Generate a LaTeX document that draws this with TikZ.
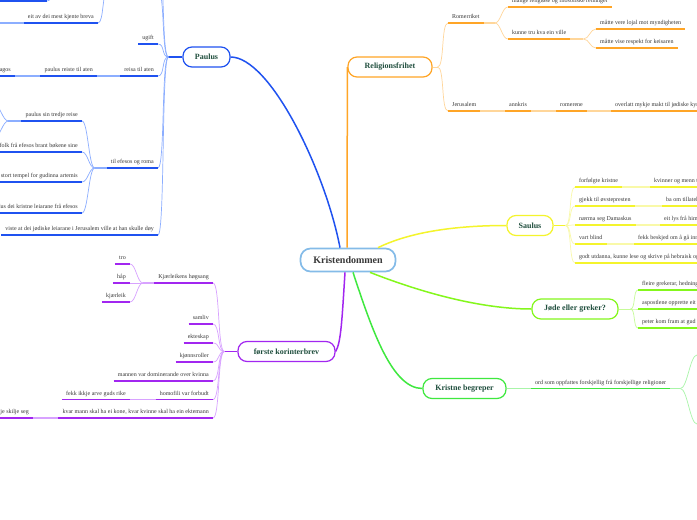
\documentclass[tikz,border=0pt]{standalone}
\usepackage{fontspec}
\setmainfont{Liberation Serif}
\definecolor{pblue}{HTML}{1F52F0}
\definecolor{pbluel}{HTML}{8CAEFF}
\definecolor{rorange}{HTML}{FFA526}
\definecolor{rorangel}{HTML}{FFD69A}
\definecolor{syellow}{HTML}{F4F42C}
\definecolor{syellowl}{HTML}{F9F9A8}
\definecolor{jlime}{HTML}{84F71C}
\definecolor{jlimel}{HTML}{C6FB98}
\definecolor{kgreen}{HTML}{3FE83F}
\definecolor{kgreenl}{HTML}{A8F5A8}
\definecolor{fpurple}{HTML}{A226F0}
\definecolor{fpurplel}{HTML}{D8A2FF}
\definecolor{cblue}{HTML}{84BBE8}
\definecolor{topictext}{HTML}{1F4E3D}
\definecolor{leaftext}{HTML}{383838}

\begin{document}
\begin{tikzpicture}[x=1pt,y=-1pt,
  hub/.style={draw=cblue, line width=1.7pt, rounded corners=10pt, fill=white, minimum height=23pt, minimum width=95pt, text=leaftext, font=\bfseries\fontsize{10}{12}\selectfont},
  topic/.style={draw=#1, line width=1.2pt, rounded corners=9pt, fill=white, minimum height=20pt, inner xsep=11pt, text=topictext, font=\bfseries\fontsize{8}{9.6}\selectfont},
  leaf/.style={inner xsep=4pt, inner ysep=2.6pt, text height=4.3pt, text depth=1.4pt, text=leaftext, font=\fontsize{6}{7.2}\selectfont},
  lleaf/.style={leaf, anchor=south east},
  rleaf/.style={leaf, anchor=south west},
  ul/.style={line width=1.8pt, draw=#1},
  link/.style={line width=1.3pt, draw=#1},
  fan/.style={line width=0.7pt, draw=#1},
  stem/.style={line width=1.3pt, draw=#1},
  main/.style={line width=1.5pt, draw=#1}]
\useasboundingbox (0,0) rectangle (697,520);
\fill[white] (0,0) rectangle (697,520);

% centre and main topics
\node[hub] (krist) at (348,260) {Kristendommen};
\node[topic=pblue, minimum width=47pt] (paulus) at (206.5,57) {Paulus};
\node[topic=rorange, minimum width=84pt] (relig) at (390,67) {Religionsfrihet};
\node[topic=syellow, minimum width=46pt] (saulus) at (530,225.5) {Saulus};
\node[topic=jlime, minimum width=86pt] (jode) at (575,309) {Jøde eller greker?};
\node[topic=kgreen, minimum width=83pt] (begrep) at (464.5,388.5) {Kristne begreper};
\node[topic=fpurple, minimum width=97pt] (korint) at (286.5,351.5) {første korinterbrev};

\draw[main=pblue] ([xshift=-8pt]krist.north) .. controls (325,170) and (270,57) .. (paulus.east);
\draw[main=rorange] ([xshift=-1pt]krist.north) -- (relig.west);
\draw[main=syellow] ([xshift=30pt]krist.north) .. controls (410,232) and (455,225.5) .. (saulus.west);
\draw[main=jlime] ([xshift=22pt]krist.south) .. controls (420,292) and (480,309) .. (jode.west);
\draw[main=kgreen] ([xshift=5pt]krist.south) .. controls (372,330) and (392,388.5) .. (begrep.west);
\draw[main=fpurple] ([xshift=-3pt]krist.south) .. controls (342,320) and (341,343) .. (korint.east);

% Paulus
\node[lleaf] (ugift) at (158,44) {ugift};
\node[lleaf] (reisa) at (158,76) {reisa til aten};
\node[lleaf] (reiste) at (97,76) {paulus reiste til aten};
\node[lleaf] (areo) at (15,76) {Areopagos};
\node[lleaf] (efesos) at (158,168) {til efesos og roma};
\node[lleaf] (tredje) at (82,121) {paulus sin tredje reise};
\node[lleaf] (brant) at (82,152) {folk frå efesos brant bøkene sine};
\node[lleaf] (tempel) at (82,182) {eit stort tempel for gudinna artemis};
\node[lleaf] (leiar) at (82,213) {møtte Paulus dei kristne leiarane frå efesos};
\node[lleaf] (viste) at (158,235) {viste at dei jødiske leiarane i Jerusalem ville at han skulle døy};
\node[lleaf] (breva) at (98,23) {eit av dei mest kjente breva};
\coordinate (pj) at ([xshift=-14pt]paulus.west);
\coordinate (ej) at ([xshift=-12pt]efesos.south west);
\coordinate (tj) at ([xshift=-13pt]tredje.south west);
\coordinate (bj) at (108,-10);
\coordinate (ptopa) at (158,-10);
\coordinate (ptopb) at (158,-42);
\draw[stem=pblue] (paulus.west) -- (pj);
\foreach \n in {ugift,reisa,efesos,viste}
  \draw[fan=pbluel] (pj) .. controls +(-7,0) and +(7,0) .. (\n.south east);
\draw[fan=pbluel] (pj) .. controls +(-7,0) and +(7,0) .. (ptopa);
\draw[fan=pbluel] (pj) .. controls +(-7,0) and +(7,0) .. (ptopb);
\foreach \n in {tredje,brant,tempel,leiar}
  \draw[fan=pbluel] (ej) .. controls +(-6,0) and +(6,0) .. (\n.south east);
\draw[fan=pbluel] (tj) .. controls +(-6,0) and +(6,0) .. (-6,104);
\draw[fan=pbluel] (tj) .. controls +(-6,0) and +(6,0) .. (-6,138);
\draw[fan=pbluel] (bj) .. controls +(-6,0) and +(6,0) .. (breva.south east);
\draw[fan=pbluel] (47,1) .. controls (54,1) and (50,-16) .. (58,-16);
\draw[link=pbluel] (reisa.south west) -- (reiste.south east);
\draw[link=pbluel] (reiste.south west) -- (areo.south east);
\draw[link=pbluel] (efesos.south west) -- (ej);
\draw[link=pbluel] (tredje.south west) -- (tj);
\draw[link=pbluel] (breva.south west) -- (-5,23);
\draw[ul=pblue] (-10,1) -- (47,1);
\foreach \n in {ugift,reisa,reiste,areo,efesos,tredje,brant,tempel,leiar,viste,breva}
  \draw[ul=pblue] (\n.south west) -- (\n.south east);

% Religionsfrihet
\node[rleaf] (romer) at (448,23) {Romerriket};
\node[rleaf] (mange) at (508,7) {mange religiøse og filosofiske retninger};
\node[rleaf] (kunne) at (508,39) {kunne tru kva ein ville};
\node[rleaf] (lojal) at (596,29) {måtte vere lojal mot myndigheten};
\node[rleaf] (respekt) at (596,48) {måtte vise respekt for keisaren};
\node[rleaf] (jerus) at (448,111) {Jerusalem};
\node[rleaf] (annk) at (505,111) {annkris};
\node[rleaf] (romerne) at (556,111) {romerene};
\node[rleaf] (overlatt) at (611,111) {overlatt mykje makt til jødiske kyrkjeleiarar};
\coordinate (rj) at ([xshift=5pt]relig.east);
\coordinate (romj) at ([xshift=11pt]romer.south east);
\coordinate (kj) at ([xshift=13pt]kunne.south east);
\draw[fan=rorangel] (relig.east) -- (rj);
\foreach \n in {romer,jerus}
  \draw[fan=rorangel] (rj) .. controls +(7,0) and +(-7,0) .. (\n.south west);
\foreach \n in {mange,kunne}
  \draw[fan=rorangel] (romj) .. controls +(6,0) and +(-6,0) .. (\n.south west);
\foreach \n in {lojal,respekt}
  \draw[fan=rorangel] (kj) .. controls +(6,0) and +(-6,0) .. (\n.south west);
\draw[link=rorangel] (romer.south east) -- (romj);
\draw[link=rorangel] (kunne.south east) -- (kj);
\draw[link=rorangel] (jerus.south east) -- (annk.south west);
\draw[link=rorangel] (annk.south east) -- (romerne.south west);
\draw[link=rorangel] (romerne.south east) -- (overlatt.south west);
\foreach \n in {romer,mange,kunne,lojal,respekt,jerus,annk,romerne,overlatt}
  \draw[ul=rorange] (\n.south west) -- (\n.south east);

% Saulus
\node[rleaf] (forfolg) at (575,187) {forfølgte kristne};
\node[rleaf] (kvinner) at (650,187) {kvinner og menn til fengsel};
\node[rleaf] (gjekk) at (575,206) {gjekk til øvstepresten};
\node[rleaf] (baom) at (662,206) {ba om tillatelse til å forfølgje};
\node[rleaf] (naerma) at (575,225) {nærma seg Damaskus};
\node[rleaf] (lys) at (660,225) {eit lys frå himmelen};
\node[rleaf] (blind) at (575,244) {vart blind};
\node[rleaf] (beskjed) at (634,244) {fekk beskjed om å gå inn i byen};
\node[rleaf] (utdanna) at (575,263) {godt utdanna, kunne lese og skrive på hebraisk og gresk};
\coordinate (sj) at ([xshift=12pt]saulus.east);
\draw[stem=syellow] (saulus.east) -- (sj);
\foreach \n in {forfolg,gjekk,naerma,blind,utdanna}
  \draw[fan=syellowl] (sj) .. controls +(6,0) and +(-6,0) .. (\n.south west);
\draw[link=syellowl] (forfolg.south east) -- (kvinner.south west);
\draw[link=syellowl] (gjekk.south east) -- (baom.south west);
\draw[link=syellowl] (naerma.south east) -- (lys.south west);
\draw[link=syellowl] (blind.south east) -- (beskjed.south west);
\foreach \n in {forfolg,kvinner,gjekk,baom,naerma,lys,blind,beskjed,utdanna}
  \draw[ul=syellow] (\n.south west) -- (\n.south east);

% Jøde eller greker?
\node[rleaf] (fleire) at (638,290) {fleire grekerar, hedningar vart kristne};
\node[rleaf] (apost) at (638,309) {aspostlene opprette eit møte};
\node[rleaf] (peter) at (638,328) {peter kom fram at gud ikkje gjer forskjell};
\coordinate (jj) at ([xshift=12pt]jode.east);
\draw[fan=jlimel] (jode.east) -- (jj);
\foreach \n in {fleire,apost,peter}
  \draw[fan=jlimel] (jj) .. controls +(5,0) and +(-5,0) .. (\n.south west);
\foreach \n in {fleire,apost,peter}
  \draw[ul=jlime] (\n.south west) -- (\n.south east);

% Kristne begreper
\node[rleaf] (ord) at (531,388.5) {ord som oppfattes forskjellig frå forskjellige religioner};
\coordinate (oj) at ([xshift=10pt]ord.south east);
\coordinate (oa) at (697,355);
\coordinate (ob) at (697,424);
\draw[link=kgreenl] (begrep.east) -- (ord.south west);
\draw[link=kgreenl] (ord.south east) -- (oj);
\draw[fan=kgreenl] (oj) .. controls +(7,0) and +(-7,0) .. (oa);
\draw[fan=kgreenl] (oj) .. controls +(7,0) and +(-7,0) .. (ob);
\draw[ul=kgreen] (ord.south west) -- (ord.south east);
\draw[ul=kgreen] (oa) -- +(12,0);
\draw[ul=kgreen] (ob) -- +(12,0);

% første korinterbrev
\node[lleaf] (hogsang) at (213,283) {Kjærleikens høgsang};
\node[lleaf] (tro) at (130,264) {tro};
\node[lleaf] (haap) at (130,283) {håp};
\node[lleaf] (kjaer) at (130,302) {kjærleik};
\node[lleaf] (samliv) at (213,324) {samliv};
\node[lleaf] (ekte) at (213,343) {ekteskap};
\node[lleaf] (kjonn) at (213,362) {kjønnsroller};
\node[lleaf] (mannen) at (213,381) {mannen var dominerande over kvinna};
\node[lleaf] (homo) at (213,399.5) {homofili var forbudt};
\node[lleaf] (arve) at (130,399.5) {fekk ikkje arve guds rike};
\node[lleaf] (kvar) at (213,418) {kvar mann skal ha ei kone, kvar kvinne skal ha ein ektemann};
\node[lleaf] (skilje) at (33,418) {skal ikkje skilje seg};
\coordinate (fj) at ([xshift=-13pt]korint.west);
\coordinate (hj) at ([xshift=-11pt]hogsang.south west);
\draw[stem=fpurple] (korint.west) -- (fj);
\foreach \n in {hogsang,samliv,ekte,kjonn,mannen,homo,kvar}
  \draw[fan=fpurplel] (fj) .. controls +(-7,0) and +(7,0) .. (\n.south east);
\foreach \n in {tro,haap,kjaer}
  \draw[fan=fpurplel] (hj) .. controls +(-6,0) and +(6,0) .. (\n.south east);
\draw[link=fpurplel] (hogsang.south west) -- (hj);
\draw[link=fpurplel] (homo.south west) -- (arve.south east);
\draw[link=fpurplel] (kvar.south west) -- (skilje.south east);
\foreach \n in {hogsang,tro,haap,kjaer,samliv,ekte,kjonn,mannen,homo,arve,kvar,skilje}
  \draw[ul=fpurple] (\n.south west) -- (\n.south east);
\end{tikzpicture}
\end{document}
